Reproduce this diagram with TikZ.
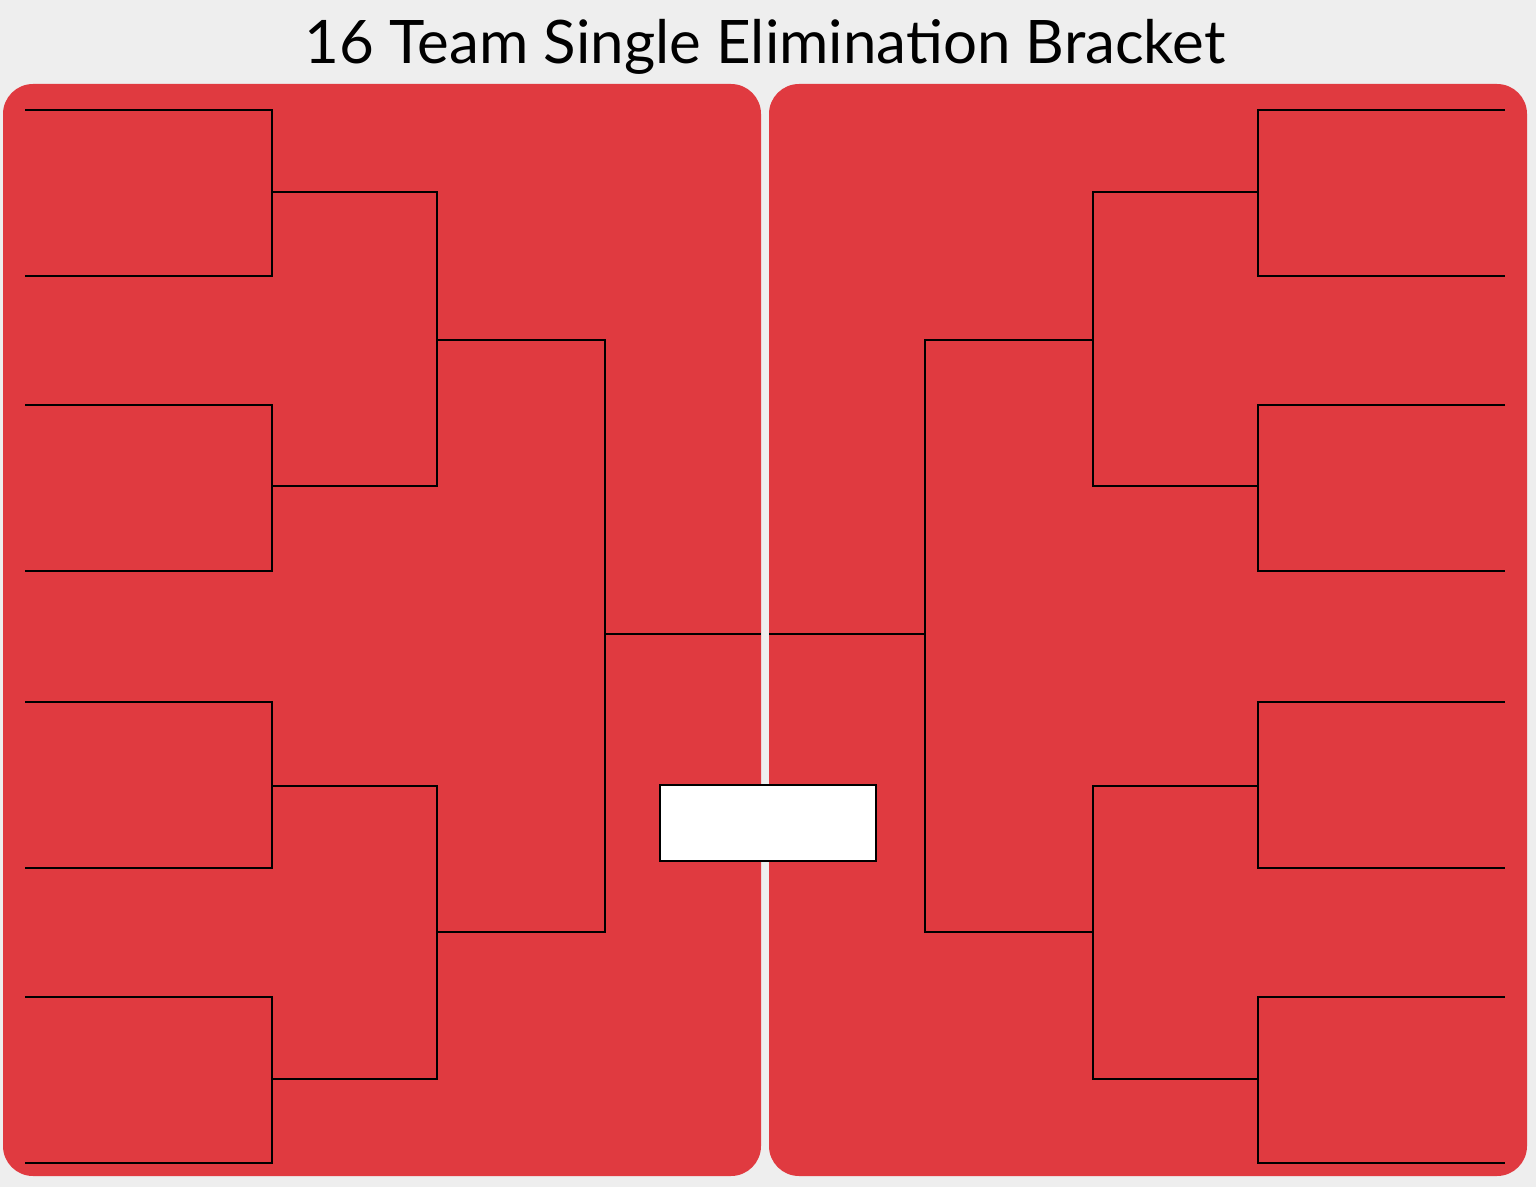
\documentclass[tikz,border=0pt]{standalone}
\usepackage{fontspec}
\setmainfont{Lato}
\definecolor{bg}{HTML}{EEEEEE}
\definecolor{panel}{HTML}{E03A40}
\begin{document}
\begin{tikzpicture}[x=0.5pt,y=-0.5pt,
  panelbox/.style={fill=panel,rounded corners=15pt},
  bline/.style={draw=black,line width=1.2pt}]
\fill[bg] (0,0) rectangle (1536,1187);
\useasboundingbox (0,0) rectangle (1536,1187);
\node (title) at (765,47) {\fontsize{30pt}{36pt}\selectfont 16 Team Single Elimination Bracket};
\path[panelbox] (3,84) rectangle (761,1176);
\path[panelbox] (769,84) rectangle (1527,1176);
\foreach \s/\o in {1/0,-1/1530}{
  \foreach \a/\b in {110/276,405/571,702/868,997/1163}{
    \draw[bline] (\o+\s*25,\a) -- (\o+\s*272,\a) -- (\o+\s*272,\b) -- (\o+\s*25,\b);
  }
  \foreach \a/\b in {192/486,786/1079}{
    \draw[bline] (\o+\s*272,\a) -- (\o+\s*437,\a) -- (\o+\s*437,\b) -- (\o+\s*272,\b);
  }
  \draw[bline] (\o+\s*437,340) -- (\o+\s*605,340) -- (\o+\s*605,932) -- (\o+\s*437,932);
}
\draw[bline] (605,634) -- (761,634);
\draw[bline] (769,634) -- (925,634);
\node[draw=black,fill=white,line width=0.8pt,minimum width=108pt,minimum height=38pt,inner sep=0pt] (champ) at (768,823) {};
\end{tikzpicture}
\end{document}
